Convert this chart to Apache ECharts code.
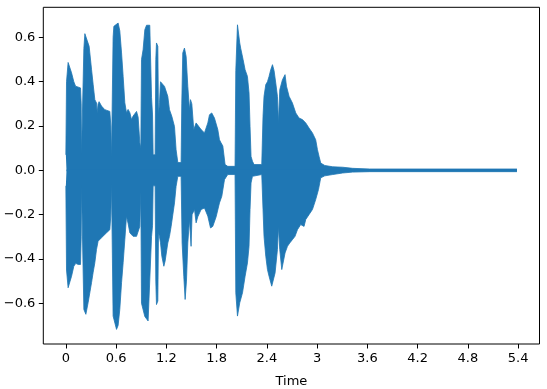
<!DOCTYPE html>
<html>
<head>
<meta charset="utf-8">
<script src="https://cdn.jsdelivr.net/npm/echarts@6/dist/echarts.min.js"></script>
<style>html,body{margin:0;padding:0;background:#fff;}#c{width:547px;height:389px;}</style>
</head>
<body>
<div id="c"></div>
<script>
// Upper envelope of the waveform (time in s, amplitude)
const upperTime = [0.000,0.008,0.027,0.068,0.095,0.116,0.128,0.175,0.183,0.187,0.206,0.215,0.227,0.247,0.278,0.307,0.326,0.346,0.366,0.374,0.385,0.397,0.426,0.465,0.525,0.537,0.545,0.561,0.564,0.573,0.624,0.644,0.665,0.684,0.704,0.724,0.743,0.764,0.784,0.803,0.844,0.863,0.883,0.895,0.903,0.922,0.943,0.963,1.002,1.011,1.023,1.035,1.042,1.066,1.074,1.082,1.098,1.106,1.118,1.130,1.146,1.178,1.217,1.237,1.265,1.297,1.316,1.337,1.376,1.384,1.396,1.416,1.436,1.456,1.476,1.488,1.504,1.527,1.555,1.575,1.615,1.655,1.695,1.715,1.742,1.774,1.814,1.834,1.853,1.874,1.901,1.933,2.020,2.029,2.049,2.061,2.076,2.088,2.116,2.140,2.168,2.187,2.199,2.211,2.228,2.247,2.339,2.354,2.366,2.387,2.407,2.426,2.446,2.467,2.486,2.506,2.526,2.538,2.554,2.586,2.617,2.634,2.665,2.705,2.745,2.784,2.825,2.864,2.903,2.944,2.983,3.004,3.023,3.043,3.091,3.186,3.305,3.425,3.628,5.386];
const upperVal = [0.07,0.40,0.487,0.44,0.40,0.38,0.372,0.372,0.30,0.07,0.07,0.55,0.617,0.61,0.56,0.454,0.387,0.319,0.304,0.26,0.30,0.31,0.29,0.274,0.266,0.20,0.06,0.06,0.60,0.65,0.665,0.63,0.53,0.424,0.305,0.26,0.275,0.26,0.229,0.245,0.266,0.24,0.125,0.10,0.50,0.544,0.635,0.655,0.655,0.66,0.33,0.25,0.07,0.07,0.50,0.575,0.56,0.25,0.305,0.40,0.405,0.379,0.334,0.274,0.244,0.198,0.093,0.035,0.035,0.30,0.53,0.552,0.514,0.379,0.274,0.319,0.30,0.184,0.214,0.221,0.184,0.169,0.214,0.251,0.259,0.236,0.184,0.138,0.124,0.11,0.026,0.018,0.018,0.45,0.657,0.65,0.575,0.55,0.50,0.454,0.424,0.349,0.198,0.063,0.041,0.026,0.026,0.244,0.334,0.387,0.40,0.424,0.454,0.477,0.45,0.394,0.334,0.214,0.364,0.409,0.432,0.38,0.334,0.304,0.259,0.236,0.229,0.214,0.191,0.169,0.138,0.093,0.063,0.033,0.022,0.016,0.014,0.009,0.006,0.006];
// Lower envelope of the waveform
const lowerTime = [0.000,0.008,0.027,0.068,0.095,0.119,0.147,0.175,0.183,0.187,0.206,0.215,0.239,0.266,0.307,0.326,0.346,0.366,0.385,0.426,0.486,0.525,0.537,0.545,0.561,0.564,0.605,0.624,0.644,0.665,0.684,0.704,0.724,0.743,0.764,0.803,0.844,0.883,0.895,0.903,0.943,0.982,1.002,1.023,1.035,1.042,1.066,1.074,1.082,1.098,1.106,1.118,1.130,1.146,1.170,1.185,1.217,1.237,1.257,1.297,1.316,1.337,1.376,1.388,1.408,1.424,1.440,1.456,1.476,1.495,1.507,1.536,1.555,1.575,1.615,1.655,1.695,1.727,1.754,1.794,1.834,1.862,1.894,1.933,2.020,2.029,2.049,2.076,2.109,2.140,2.168,2.187,2.199,2.211,2.228,2.247,2.339,2.354,2.366,2.387,2.407,2.426,2.458,2.474,2.498,2.526,2.538,2.554,2.578,2.593,2.617,2.646,2.673,2.705,2.736,2.765,2.804,2.844,2.864,2.903,2.944,2.983,3.016,3.043,3.091,3.186,3.305,3.425,3.628,5.386];
const lowerVal = [-0.07,-0.45,-0.53,-0.478,-0.433,-0.42,-0.425,-0.425,-0.30,-0.07,-0.07,-0.628,-0.65,-0.597,-0.506,-0.46,-0.417,-0.357,-0.32,-0.304,-0.282,-0.268,-0.20,-0.06,-0.06,-0.658,-0.718,-0.70,-0.628,-0.507,-0.417,-0.313,-0.207,-0.24,-0.282,-0.298,-0.298,-0.253,-0.10,-0.60,-0.66,-0.68,-0.673,-0.30,-0.25,-0.07,-0.07,-0.50,-0.606,-0.59,-0.28,-0.30,-0.327,-0.388,-0.433,-0.41,-0.328,-0.298,-0.253,-0.147,-0.072,-0.027,-0.027,-0.328,-0.478,-0.583,-0.50,-0.328,-0.222,-0.343,-0.20,-0.177,-0.237,-0.21,-0.177,-0.17,-0.207,-0.26,-0.253,-0.21,-0.147,-0.117,-0.042,-0.019,-0.019,-0.553,-0.658,-0.598,-0.553,-0.478,-0.418,-0.343,-0.177,-0.057,-0.027,-0.019,-0.019,-0.177,-0.298,-0.388,-0.448,-0.478,-0.523,-0.523,-0.463,-0.358,-0.253,-0.358,-0.448,-0.44,-0.373,-0.343,-0.328,-0.313,-0.298,-0.268,-0.245,-0.253,-0.222,-0.20,-0.177,-0.132,-0.087,-0.034,-0.025,-0.019,-0.012,-0.008,-0.006,-0.006];
const xTicks = [0, 0.6, 1.2, 1.8, 2.4, 3, 3.6, 4.2, 4.8, 5.4];
const yTicks = [-0.6, -0.4, -0.2, 0, 0.2, 0.4, 0.6];
const xLabel = 'Time';

const color = '#1f77b4';
const font = 'DejaVu Sans';
const up = upperTime.map((t, i) => [t, upperVal[i]]);
const lo = lowerTime.map((t, i) => [t, lowerVal[i]]);

const chart = echarts.init(document.getElementById('c'), null, {renderer: 'canvas'});
const mkSeries = (d, org) => ({
  type: 'line', data: d, symbol: 'none', silent: true, animation: false,
  lineStyle: {color: color, width: 0.8},
  areaStyle: {color: color, opacity: 1, origin: org}
});
chart.setOption({
  animation: false,
  backgroundColor: '#fff',
  grid: {left: 43.3, right: 7.5, top: 7.3, bottom: 45, show: true, borderColor: '#000', borderWidth: 1,
    containLabel: false, outerBoundsMode: 'none'},
  xAxis: {
    type: 'value', min: -0.2693, max: 5.655,
    name: xLabel, nameLocation: 'middle', nameGap: 31,
    nameTextStyle: {color: '#000', fontFamily: font, fontSize: 13},
    axisLine: {show: false, onZero: false},
    axisTick: {show: true, length: 4.5, inside: false, lineStyle: {color: '#000', width: 1}, customValues: xTicks},
    axisLabel: {customValues: xTicks, color: '#000', fontFamily: font, fontSize: 13, margin: 8,
      formatter: (v) => String(parseFloat(v.toFixed(1)))},
    splitLine: {show: false}
  },
  yAxis: {
    type: 'value', min: -0.784, max: 0.736,
    axisLine: {show: false, onZero: false},
    axisTick: {show: true, length: 4.5, inside: false, lineStyle: {color: '#000', width: 1}, customValues: yTicks},
    axisLabel: {customValues: yTicks, color: '#000', fontFamily: font, fontSize: 13, margin: 8,
      formatter: (v) => { const s = (Math.abs(v) < 1e-9 ? 0 : v).toFixed(1); return s.replace('-', '\u2212'); }},
    splitLine: {show: false}
  },
  series: [mkSeries(up, -0.004), mkSeries(lo, 0.004)]
});
</script>
</body>
</html>
